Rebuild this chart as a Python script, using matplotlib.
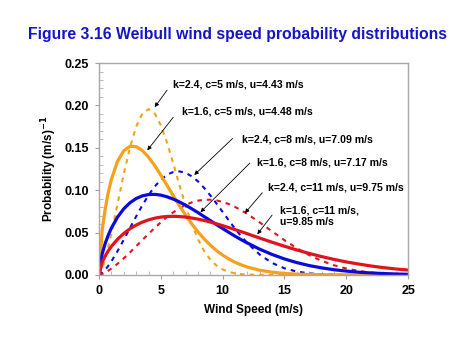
import matplotlib
matplotlib.use("Agg")
from matplotlib import pyplot as plt
from matplotlib.ticker import MultipleLocator

plt.rcParams['font.family'] = ['Liberation Sans', 'DejaVu Sans']
plt.rcParams['font.weight'] = 'bold'

# wind speed (m/s)
speed = [0, 0.25, 0.5, 0.75, 1, 1.5, 2, 2.5, 3, 3.5, 4, 4.5, 5, 5.5, 6, 6.5, 7, 7.5, 8, 8.5,
         9, 9.5, 10, 10.5, 11, 11.5, 12, 13, 14, 15, 16, 17, 18, 19, 20, 21, 22, 23, 24, 25]

# probability values for each curve
k16_c5 = [0, 0.0526, 0.0784, 0.0977, 0.1129, 0.1343, 0.1466, 0.1518, 0.1514, 0.1468, 0.139, 0.1291,
          0.1177, 0.1057, 0.0936, 0.0818, 0.0706, 0.0602, 0.0509, 0.0425, 0.0352, 0.0288, 0.0234,
          0.0188, 0.015, 0.0119, 0.0093, 0.0056, 0.0033, 0.0019, 0.001, 0.0006, 0.0003, 0.0002,
          0.0001, 0, 0, 0, 0, 0]
k24_c5 = [0, 0.0072, 0.019, 0.0334, 0.0494, 0.0842, 0.1191, 0.1505, 0.1751, 0.1905, 0.1956, 0.1905,
          0.1766, 0.1561, 0.1316, 0.1061, 0.0817, 0.0601, 0.0422, 0.0283, 0.0181, 0.0111, 0.0065,
          0.0036, 0.0019, 0.001, 0.0005, 0.0001, 0, 0, 0, 0, 0, 0, 0, 0, 0, 0, 0, 0]
k16_c8 = [0, 0.0249, 0.0374, 0.0472, 0.0554, 0.0684, 0.0781, 0.0852, 0.0902, 0.0933, 0.0949, 0.0951,
          0.0942, 0.0922, 0.0895, 0.0862, 0.0823, 0.0781, 0.0736, 0.0689, 0.0642, 0.0594, 0.0548,
          0.0502, 0.0458, 0.0416, 0.0377, 0.0304, 0.0242, 0.0189, 0.0146, 0.0111, 0.0084, 0.0062,
          0.0046, 0.0033, 0.0024, 0.0017, 0.0012, 0.0008]
k24_c8 = [0, 0.0023, 0.0062, 0.0109, 0.0162, 0.0283, 0.0416, 0.0554, 0.0691, 0.0822, 0.0941, 0.1043,
          0.1124, 0.1182, 0.1215, 0.1222, 0.1204, 0.1164, 0.1104, 0.1027, 0.0939, 0.0843, 0.0743,
          0.0643, 0.0547, 0.0457, 0.0375, 0.024, 0.0142, 0.0079, 0.004, 0.0019, 0.0008, 0.0003,
          0.0001, 0, 0, 0, 0, 0]
k16_c11 = [0, 0.015, 0.0226, 0.0286, 0.0338, 0.0422, 0.049, 0.0545, 0.0589, 0.0623, 0.065, 0.067,
           0.0683, 0.069, 0.0692, 0.0689, 0.0683, 0.0672, 0.0659, 0.0643, 0.0624, 0.0604, 0.0582,
           0.0559, 0.0535, 0.0511, 0.0486, 0.0435, 0.0386, 0.0339, 0.0295, 0.0254, 0.0217, 0.0184,
           0.0154, 0.0129, 0.0106, 0.0087, 0.0071, 0.0058]
k24_c11 = [0, 0.0011, 0.0029, 0.0051, 0.0076, 0.0133, 0.0197, 0.0266, 0.0339, 0.0412, 0.0485, 0.0555,
           0.0622, 0.0684, 0.0739, 0.0787, 0.0826, 0.0857, 0.0877, 0.0887, 0.0888, 0.0879, 0.0862,
           0.0836, 0.0803, 0.0763, 0.0719, 0.0619, 0.0514, 0.041, 0.0316, 0.0234, 0.0167, 0.0115,
           0.0076, 0.0048, 0.0029, 0.0017, 0.001, 0.0005]

labels = ["k=2.4, c=5 m/s, u=4.43 m/s", "k=1.6, c=5 m/s, u=4.48 m/s",
          "k=2.4, c=8 m/s, u=7.09 m/s", "k=1.6, c=8 m/s, u=7.17 m/s",
          "k=2.4, c=11 m/s, u=9.75 m/s", "k=1.6, c=11 m/s,\nu=9.85 m/s"]

orange = '#f5a11c'
blue = '#0a0adc'
red = '#e0141e'

fig = plt.figure(figsize=(4.74, 3.55), dpi=100)
ax = fig.add_axes([0.209, 0.2254, 0.652, 0.597])

dash = (2.2, 2.4)
ax.plot(speed, k24_c5, color=orange, lw=1.5, dashes=dash)
ax.plot(speed, k24_c8, color=blue, lw=1.5, dashes=dash)
ax.plot(speed, k24_c11, color=red, lw=1.5, dashes=dash)
ax.plot(speed, k16_c5, color=orange, lw=2.3)
ax.plot(speed, k16_c8, color=blue, lw=2.3)
ax.plot(speed, k16_c11, color=red, lw=2.3)

# annotations: (text pos, arrow tail, arrow head)
notes = [((6.0, 0.225), (5.5, 0.218), (4.5, 0.198)),
         ((6.7, 0.193), (6.0, 0.186), (3.9, 0.147)),
         ((11.6, 0.160), (10.8, 0.161), (7.7, 0.118)),
         ((12.8, 0.133), (12.2, 0.132), (8.2, 0.074)),
         ((13.7, 0.103), (13.2, 0.097), (11.8, 0.073)),
         ((14.6, 0.0696), (14.0, 0.0707), (12.8, 0.048))]
for lab, (tp, tail, head) in zip(labels, notes):
    ax.text(tp[0], tp[1], lab, fontsize=7.6, fontweight='bold', va='center', ha='left',
            linespacing=1.2)
    ax.annotate("", xy=head, xytext=tail,
                arrowprops=dict(arrowstyle='-|>', color='black', lw=0.6,
                                mutation_scale=6, shrinkA=0, shrinkB=0))

ax.set_xlim(0, 25)
ax.set_ylim(0, 0.25)
ax.xaxis.set_major_locator(MultipleLocator(5))
ax.xaxis.set_minor_locator(MultipleLocator(1))
ax.yaxis.set_major_locator(MultipleLocator(0.05))
ax.yaxis.set_minor_locator(MultipleLocator(0.01))
ax.yaxis.set_major_formatter(plt.FuncFormatter(lambda v, p: f"{v:.2f}"))
ax.tick_params(which='major', direction='out', length=3, color='#a0a0a0', width=0.8,
               labelsize=9, pad=4)
ax.tick_params(which='minor', direction='in', length=3, color='#b0b0b0', width=0.6)
for s in ax.spines.values():
    s.set_color('#a8a8a8')
    s.set_linewidth(1.0)

ax.set_xlabel("Wind Speed (m/s)", fontsize=8.5, fontweight='bold', labelpad=5)
ax.set_ylabel("Probability (m/s)$^{\\mathbf{-1}}$", fontsize=8.5, fontweight='bold', labelpad=4)

fig.text(0.5, 0.903, "Figure 3.16 Weibull wind speed probability distributions",
         ha='center', va='center', fontsize=11.3, fontweight='bold', color='#1414c8')

fig.savefig("out.png", dpi=100)
